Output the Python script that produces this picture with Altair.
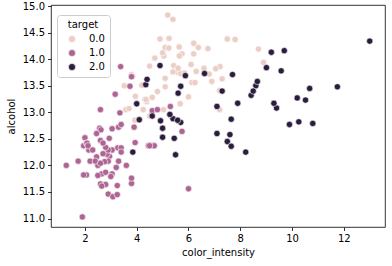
import altair as alt
import pandas as pd

# class 0.0
class0_color = [5.64, 4.38, 5.68, 7.8, 4.32, 6.75, 5.25, 5.05, 5.2, 7.22, 5.75, 5.0, 5.6, 5.4, 7.5,
                7.3, 6.2, 6.6, 8.7, 5.1, 5.65, 4.5, 3.8, 3.93, 3.52, 3.58, 4.8, 3.95, 4.5, 4.7,
                5.7, 6.9, 3.84, 5.4, 4.2, 5.1, 4.6, 4.25, 3.7, 5.1, 6.13, 7.2, 5.43, 4.36, 5.04,
                5.24, 4.9, 6.1, 6.2, 8.9, 7.2, 5.6, 7.05, 6.3, 5.85, 6.25, 6.38, 6.0, 6.8]
class0_alcohol = [14.23, 13.2, 13.16, 14.37, 13.24, 14.2, 14.39, 14.06, 14.83, 13.86, 14.1, 14.12, 13.75,
                  14.75, 14.38, 13.63, 14.3, 13.83, 14.19, 13.64, 14.06, 12.93, 13.71, 12.85, 13.5, 13.05,
                  13.39, 13.3, 13.87, 14.02, 13.73, 13.58, 13.68, 13.76, 13.51, 13.48, 13.28, 13.05, 13.07,
                  14.22, 13.56, 13.41, 13.88, 13.24, 13.05, 14.21, 14.38, 13.9, 14.1, 13.94, 13.05, 13.83,
                  13.82, 13.77, 13.74, 13.56, 14.22, 13.29, 13.72]

# class 1.0
class1_color = [1.95, 3.27, 5.75, 3.8, 4.45, 2.95, 4.6, 5.3, 4.68, 3.17, 2.85, 3.05, 3.38, 3.74, 3.35,
                3.21, 3.8, 4.6, 2.65, 3.4, 2.57, 2.5, 3.9, 2.2, 4.8, 3.05, 2.62, 2.45, 2.6, 2.8,
                1.74, 2.4, 3.6, 3.05, 2.15, 3.25, 2.6, 2.5, 2.9, 4.5, 2.3, 3.3, 2.45, 2.8, 2.06,
                2.94, 2.7, 3.4, 3.3, 2.7, 2.65, 2.9, 2.0, 3.8, 3.08, 2.9, 1.9, 1.95, 2.06, 3.4,
                1.28, 3.25, 6.0, 2.08, 2.6, 2.8, 2.76, 3.94, 3.0, 2.12, 2.6]
class1_alcohol = [12.37, 12.33, 12.64, 13.67, 12.37, 12.17, 12.37, 13.11, 12.37, 13.34, 12.21, 12.29, 13.86,
                  13.49, 12.99, 11.96, 11.66, 13.03, 11.84, 12.33, 12.7, 12.0, 12.72, 12.08, 13.05, 11.84,
                  12.67, 12.16, 11.65, 11.64, 12.08, 12.08, 12.0, 12.69, 12.29, 11.62, 12.47, 11.81, 12.29,
                  12.37, 12.29, 12.08, 12.6, 12.34, 11.82, 12.51, 12.42, 12.25, 12.72, 12.22, 11.61, 11.46,
                  12.52, 11.76, 11.41, 12.08, 11.03, 11.82, 12.42, 12.77, 12.0, 11.45, 11.56, 12.42, 13.05,
                  11.87, 12.07, 12.43, 11.79, 12.37, 12.04]

# class 2.0
class2_color = [4.1, 5.4, 5.7, 5.0, 5.45, 7.1, 3.85, 5.0, 5.7, 4.92, 4.6, 5.6, 4.35, 4.4, 8.21, 4.0,
                4.9, 7.65, 8.42, 9.4, 8.6, 10.8, 7.1, 10.52, 7.6, 7.9, 9.01, 7.5, 13.0, 11.75, 7.65,
                5.88, 5.58, 5.28, 9.58, 6.62, 10.68, 10.26, 8.66, 8.5, 5.5, 9.9, 9.7, 7.7, 7.3, 10.2,
                9.3, 9.2]
class2_alcohol = [12.86, 12.88, 12.81, 12.7, 12.51, 12.6, 12.25, 12.53, 13.49, 12.84, 12.93, 13.36, 13.52,
                  13.62, 12.25, 13.16, 13.88, 12.87, 13.32, 13.08, 13.5, 12.79, 13.11, 13.23, 12.58, 13.17,
                  13.84, 12.45, 14.34, 13.48, 12.36, 13.69, 12.85, 12.96, 13.78, 13.73, 13.45, 12.82, 13.58,
                  13.4, 12.2, 12.77, 14.16, 13.71, 13.4, 13.27, 13.17, 14.13]

target_labels = ["0.0", "1.0", "2.0"]
palette = ["#ebcfc6", "#ad6593", "#2c1d3f"]
x_ticks = [2, 4, 6, 8, 10, 12]
y_ticks = [11.0, 11.5, 12.0, 12.5, 13.0, 13.5, 14.0, 14.5, 15.0]

rows = []
for lab, cs, als in zip(target_labels, [class0_color, class1_color, class2_color],
                        [class0_alcohol, class1_alcohol, class2_alcohol]):
    for c, a in zip(cs, als):
        rows.append({"color_intensity": c, "alcohol": a, "target": lab})
df = pd.DataFrame(rows)

chart = alt.Chart(df).mark_circle(
    size=40, opacity=1, stroke="white", strokeWidth=0.6
).encode(
    x=alt.X("color_intensity:Q",
            scale=alt.Scale(domain=[0.69, 13.59], nice=False, zero=False),
            axis=alt.Axis(values=x_ticks, format="d", title="color_intensity")),
    y=alt.Y("alcohol:Q",
            scale=alt.Scale(domain=[10.84, 15.02], nice=False, zero=False),
            axis=alt.Axis(values=y_ticks, format=".1f", title="alcohol")),
    color=alt.Color("target:N",
                    scale=alt.Scale(domain=target_labels, range=palette),
                    legend=alt.Legend(title="target", orient="none", legendX=6, legendY=10,
                                      padding=5, symbolOffset=5, labelOffset=12,
                                      titleAnchor="middle", titlePadding=4, rowPadding=4,
                                      symbolSize=50, symbolStrokeColor="white",
                                      symbolStrokeWidth=0.6, symbolType="circle",
                                      strokeColor="#cccccc", fillColor="rgba(255,255,255,0.8)",
                                      cornerRadius=3)),
).properties(
    width=334, height=222,
    autosize=alt.AutoSizeParams(type="none"),
    padding={"left": 51, "top": 5, "right": 7, "bottom": 39},
).configure(
    font="DejaVu Sans"
).configure_view(
    stroke="black", strokeWidth=0.8
).configure_axis(
    domain=False, grid=False, tickColor="black", tickSize=3.5, tickWidth=0.8,
    labelFont="DejaVu Sans", labelFontSize=10, labelColor="black", labelPadding=3,
    titleFont="DejaVu Sans", titleFontSize=10, titleFontWeight="normal", titleColor="black",
).configure_axisY(
    titlePadding=6
).configure_axisX(
    titlePadding=4
).configure_legend(
    titleFont="DejaVu Sans", titleFontSize=10, titleFontWeight="normal", titleColor="black",
    labelFont="DejaVu Sans", labelFontSize=10, labelColor="black",
)

chart.save("out.html", embed_options={"renderer": "svg", "actions": False})
